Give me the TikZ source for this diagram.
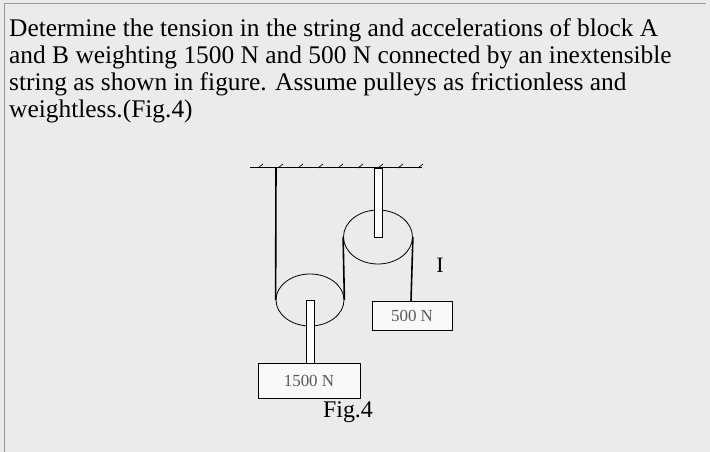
\documentclass[tikz,border=0pt]{standalone}
\usepackage{fontspec}
\setmainfont{Liberation Serif}
\usetikzlibrary{shapes.geometric}
\begin{document}
\begin{tikzpicture}[x=1bp,y=-1bp,
  txt/.style={anchor=base west,inner sep=0,font=\fontsize{25.5}{26}\selectfont},
  box/.style={draw,line width=0.8bp,fill=white!95!gray,inner sep=0,font=\fontsize{17}{18}\selectfont,text=black!65},
  str/.style={line width=1.6bp},
  pul/.style={draw,line width=0.8bp}]
\fill[black!8] (0,0) rectangle (710,452);
\useasboundingbox (0,0) rectangle (710,452);
\draw[black!40,line width=1bp] (4,4) -- (706,4) (4,4) -- (4,452);
\node[txt] (l1) at (9,37) {Determine the tension in the string and accelerations of block A};
\node[txt] (l2) at (9,64) {and B weighting 1500 N and 500 N connected by an inextensible};
\node[txt] (l3) at (9,91) {string as shown in figure. Assume pulleys as frictionless and};
\node[txt] (l4) at (9,118) {weightless.(Fig.4)};
% ceiling
\coordinate (cl) at (250,168); \coordinate (cr) at (422,168);
\draw[line width=1bp] (cl) -- (cr);
\foreach \x in {258,278,298,318,338,358,378,398,418} \draw[line width=0.7bp] (\x,168) -- (\x+5,164);
% pulleys
\node[pul,ellipse,minimum width=69bp,minimum height=54bp,inner sep=0] (up) at (378,237) {};
\node[pul,ellipse,minimum width=68bp,minimum height=52bp,inner sep=0] (lp) at (310,300) {};
% boxes
\node[box,minimum width=80bp,minimum height=29bp] (b5) at (412,315.5) {500 N};
\node[box,minimum width=102bp,minimum height=35bp] (b15) at (309,380.5) {1500 N};
% rods
\draw[line width=0.8bp,fill=white] (374,168) rectangle (382,237);
\draw[line width=0.8bp,fill=white] (306,300) rectangle (314,363);
% strings
\draw[str] (276,168) -- (lp.west);
\draw[str] (lp.east) -- (up.west);
\draw[str] (up.east) -- (411,301);
\node[font=\fontsize{22}{22}\selectfont,inner sep=0] (I) at (440,265) {I};
\node[font=\fontsize{24}{24}\selectfont,inner sep=0] (fig) at (348,412) {Fig.4};
\end{tikzpicture}
\end{document}
